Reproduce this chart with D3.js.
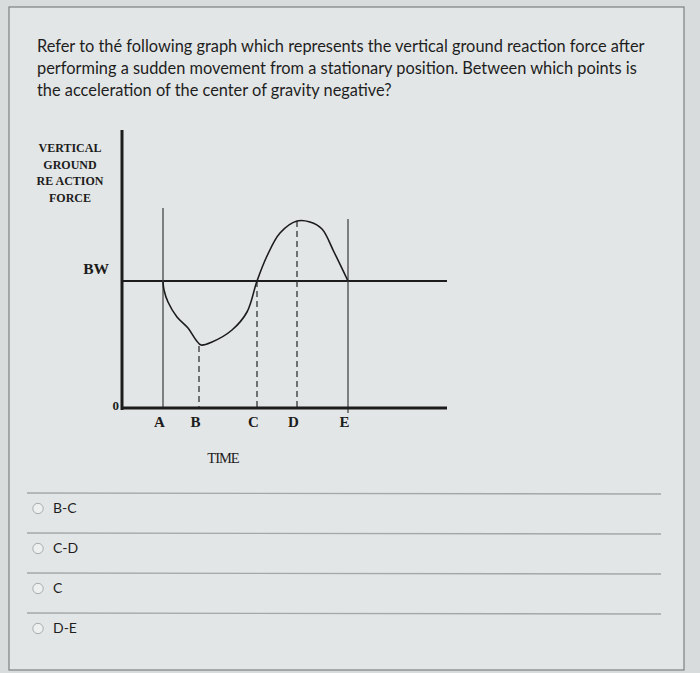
<!DOCTYPE html>
<html><head><meta charset="utf-8">
<script src="https://cdn.jsdelivr.net/npm/d3@7"></script>
<style>
html,body{margin:0;padding:0;background:#d9dcdc;}
svg{display:block;}
</style></head>
<body>
<svg id="chart" width="700" height="673"></svg>
<script>
// ---- data (time units, force units) ----
const questionLines = [
  "Refer to thé following graph which represents the vertical ground reaction force after",
  "performing a sudden movement from a stationary position. Between which points is",
  "the acceleration of the center of gravity negative?"
];
const yAxisLabelLines = ["VERTICAL", "GROUND", "RE ACTION", "FORCE"];
const xAxisTitle = "TIME";
const pointLabels = ["A", "B", "C", "D", "E"];
const pointTimes  = [41, 77, 135, 175, 226];
const bodyWeight = 127;
const yTickValues = [0, bodyWeight];
const yTickLabels = ["0", "BW"];
const timeDomain = [0, 325];
const forceDomain = [0, 278];
// force curve samples (time, force)
const curveTime  = [41, 42, 46, 55, 66, 74, 79, 90, 110, 125, 135, 145, 158, 175, 188, 200, 212, 226];
const curveForce = [126, 118, 106, 91, 80, 68, 63, 66, 78, 96, 127, 152, 175, 187, 186, 179, 156, 127];
// marker lines: [time, topForce, bottomForce, dashed]
const markerTime   = [41, 77, 135, 175, 226];
const markerTop    = [200, 62, 127, 187, 189];
const markerBottom = [0, 0, 0, 0, -5];
const markerDashed = [false, true, true, true, false];
const answerOptions = ["B-C", "C-D", "C", "D-E"];

// ---- drawing ----
const svg = d3.select("#chart");

// panel
svg.append("rect").attr("x", 9).attr("y", 7).attr("width", 675).attr("height", 663)
  .attr("fill", "#e3e6e6").attr("stroke", "#7d8080").attr("stroke-width", 1.2);

const ink = "#1c1c1c";
const serif = "'Liberation Serif', 'DejaVu Serif', serif";

// question text, fitted to width
const q = svg.append("g").attr("fill", "#1e1e1e")
  .style("font-family", "Lato, 'Open Sans', sans-serif");
const baseY = [52, 74, 96];
questionLines.forEach((t, i) => {
  q.append("text").attr("x", 37).attr("y", baseY[i]).style("font-size", "15px").text(t);
});
{
  const first = q.select("text").node();
  const w = first.getComputedTextLength();
  const fs = 15 * 608 / w;
  q.selectAll("text").style("font-size", fs + "px");
}

// scales
const x = d3.scaleLinear().domain(timeDomain).range([122, 447]);
const y = d3.scaleLinear().domain(forceDomain).range([408, 130]);

const plot = svg.append("g");

// BW line
plot.append("line").attr("x1", x(0)).attr("x2", x(timeDomain[1]))
  .attr("y1", y(bodyWeight)).attr("y2", y(bodyWeight))
  .attr("stroke", ink).attr("stroke-width", 2.2);

// marker lines
markerTime.forEach((t, i) => {
  plot.append("line").attr("x1", x(t)).attr("x2", x(t))
    .attr("y1", y(markerTop[i])).attr("y2", y(markerBottom[i]))
    .attr("stroke", markerDashed[i] ? "#333" : "#3a3a3a")
    .attr("stroke-width", markerDashed[i] ? 1.3 : 1.2)
    .attr("stroke-dasharray", markerDashed[i] ? "6,4" : null);
});

// force curve
const pts = curveTime.map((t, i) => [t, curveForce[i]]);
plot.append("path").datum(pts)
  .attr("d", d3.line().x(d => x(d[0])).y(d => y(d[1])).curve(d3.curveCatmullRom.alpha(0.5)))
  .attr("fill", "none").attr("stroke", ink).attr("stroke-width", 1.6);

// axes lines
plot.append("line").attr("x1", x(0)).attr("x2", x(0)).attr("y1", y(forceDomain[1])).attr("y2", y(0) + 2)
  .attr("stroke", ink).attr("stroke-width", 3);
plot.append("line").attr("x1", x(0) - 1).attr("x2", x(timeDomain[1])).attr("y1", y(0)).attr("y2", y(0))
  .attr("stroke", ink).attr("stroke-width", 3.2);

// x axis labels A-E
const xAxis = d3.axisBottom(x).tickValues(pointTimes)
  .tickFormat((d, i) => pointLabels[i]).tickSize(0).tickPadding(8);
const gx = svg.append("g").attr("transform", `translate(-4,${y(0)})`).call(xAxis);
gx.select(".domain").remove();
gx.attr("font-size", null);
gx.selectAll("text").attr("fill", ink)
  .attr("font-family", serif).attr("font-weight", "bold").attr("font-size", 15);

// y axis labels 0 / BW
const yAxis = d3.axisLeft(y).tickValues(yTickValues)
  .tickFormat((d, i) => yTickLabels[i]).tickSize(0).tickPadding(6);
const gy = svg.append("g").attr("transform", `translate(${x(0)},0)`).call(yAxis);
gy.select(".domain").remove();
gy.attr("font-size", null);
gy.selectAll("text").attr("fill", ink)
  .attr("font-family", serif).attr("font-weight", "bold")
  .attr("font-size", (d) => d === 0 ? 13 : 15.5)
  .attr("x", (d) => d === 0 ? -3 : -13)
  .attr("dy", (d) => d === 0 ? "0.1em" : "-0.5em");

// y axis title
const yt = svg.append("text").attr("fill", ink)
  .style("font-family", serif).style("font-weight", "bold")
  .style("font-size", "12px").attr("text-anchor", "middle");
yAxisLabelLines.forEach((t, i) => {
  yt.append("tspan").attr("x", 70).attr("y", 152 + i * 16.7).text(t);
});

// x axis title
svg.append("text").attr("x", 223).attr("y", 463).attr("text-anchor", "middle")
  .attr("fill", ink).style("font-family", serif)
  .style("font-size", "14.5px").style("letter-spacing", "-1px").text(xAxisTitle);

// answer options
const sepY = [493, 533, 573, 613];
const optY = [513, 553, 593, 633];
sepY.forEach(v => {
  svg.append("line").attr("x1", 27).attr("x2", 661).attr("y1", v).attr("y2", v + 1)
    .attr("stroke", "#a3a8a8").attr("stroke-width", 1.3);
});
answerOptions.forEach((t, i) => {
  svg.append("circle").attr("cx", 38).attr("cy", optY[i] - 4.5).attr("r", 5.2)
    .attr("fill", "#eef0f0").attr("stroke", "#a8adad").attr("stroke-width", 1);
  svg.append("text").attr("x", 53).attr("y", optY[i]).attr("fill", "#1e1e1e")
    .style("font-family", "Lato, 'Open Sans', sans-serif").style("font-size", "14px").text(t);
});
</script>
</body></html>
